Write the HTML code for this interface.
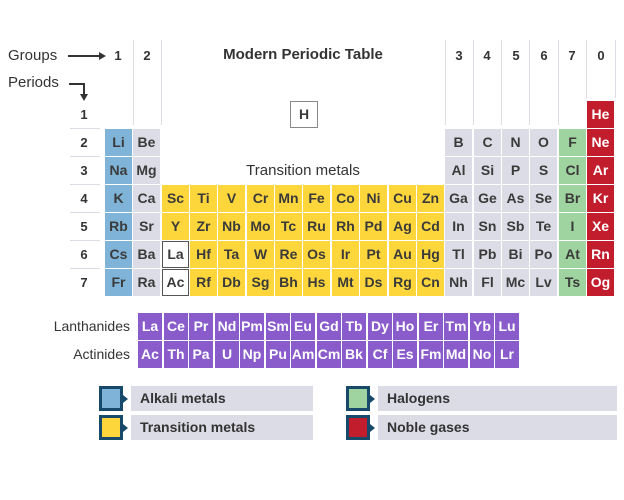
<!DOCTYPE html>
<html><head><meta charset="utf-8"><style>
*{margin:0;padding:0;box-sizing:border-box}
body{width:624px;height:500px;background:#fff;position:relative;overflow:hidden;font-family:"Liberation Sans",Arial,sans-serif;color:#333}
.a{position:absolute}
.c{position:absolute;width:27px;height:27px;line-height:27px;text-align:center;font-weight:bold;font-size:14px;color:#3a3a3a}
.b{background:#7fb4d8}.g{background:#dcdce6}.y{background:#fdd63c}.h{background:#9fd39f}.r{background:#c21d2c;color:#fff}
.w{background:#fff;border:1px solid #555;line-height:25px}
.p{position:absolute;width:24px;height:27px;line-height:27px;text-align:center;font-weight:bold;font-size:14px;color:#fff;background:#8a5ccb}
.n{position:absolute;font-weight:bold;font-size:13px;width:20px;text-align:center}
.vl{position:absolute;width:1px;background:#dcdce4}
.hl{position:absolute;height:1px;background:#dcdce4;left:70px;width:30px}
.lg{position:absolute;width:24px;height:25px;border:3px solid #174a6a}
.lg:after{content:"";position:absolute;right:-8px;top:6px;border-left:5px solid #174a6a;border-top:4px solid transparent;border-bottom:4px solid transparent}
.lb{position:absolute;height:25px;line-height:25px;background:#dcdce6;font-weight:bold;font-size:14px;padding-left:9px}
</style></head><body>
<div class="a" style="left:8px;top:47px;font-size:15px">Groups</div>
<div class="a" style="left:68px;top:55px;width:32px;height:2px;background:#333"></div>
<div class="a" style="left:99px;top:52px;border-left:7px solid #333;border-top:4px solid transparent;border-bottom:4px solid transparent"></div>
<div class="a" style="left:8px;top:74px;font-size:15px">Periods</div>
<div class="a" style="left:69px;top:83px;width:16px;height:2px;background:#333"></div>
<div class="a" style="left:83px;top:83px;width:2px;height:12px;background:#333"></div>
<div class="a" style="left:80px;top:94px;border-top:7px solid #333;border-left:4px solid transparent;border-right:4px solid transparent"></div>
<div class="a" style="left:160px;top:46px;width:286px;text-align:center;font-weight:bold;font-size:15px">Modern Periodic Table</div>
<div class="a" style="left:160px;top:162px;width:286px;text-align:center;font-size:15px">Transition metals</div>

<div class="vl" style="left:133px;top:40px;height:85px"></div>
<div class="vl" style="left:161px;top:40px;height:85px"></div>
<div class="vl" style="left:445px;top:40px;height:85px"></div>
<div class="vl" style="left:473px;top:40px;height:85px"></div>
<div class="vl" style="left:501px;top:40px;height:85px"></div>
<div class="vl" style="left:529px;top:40px;height:85px"></div>
<div class="vl" style="left:558px;top:40px;height:85px"></div>
<div class="vl" style="left:586px;top:40px;height:58px"></div>
<div class="vl" style="left:615px;top:40px;height:58px"></div>
<div class="hl" style="top:128px"></div><div class="hl" style="top:156px"></div><div class="hl" style="top:184px"></div><div class="hl" style="top:212px"></div><div class="hl" style="top:240px"></div><div class="hl" style="top:268px"></div>

<div class="n" style="left:108px;top:48px">1</div><div class="n" style="left:137px;top:48px">2</div>
<div class="n" style="left:449px;top:48px">3</div><div class="n" style="left:477px;top:48px">4</div><div class="n" style="left:506px;top:48px">5</div><div class="n" style="left:534px;top:48px">6</div><div class="n" style="left:562px;top:48px">7</div><div class="n" style="left:591px;top:48px">0</div>
<div class="n" style="left:74px;top:107px">1</div><div class="n" style="left:74px;top:135px">2</div><div class="n" style="left:74px;top:163px">3</div><div class="n" style="left:74px;top:191px">4</div><div class="n" style="left:74px;top:219px">5</div><div class="n" style="left:74px;top:247px">6</div><div class="n" style="left:74px;top:275px">7</div>

<div class="c w" style="left:290px;top:101px;width:28px;border-color:#888">H</div>
<div class="c r" style="left:587px;top:101px">He</div>

<div class="c b" style="left:105px;top:129px">Li</div><div class="c g" style="left:133px;top:129px">Be</div>
<div class="c g" style="left:445px;top:129px">B</div><div class="c g" style="left:474px;top:129px">C</div><div class="c g" style="left:502px;top:129px">N</div><div class="c g" style="left:530px;top:129px">O</div><div class="c h" style="left:559px;top:129px">F</div><div class="c r" style="left:587px;top:129px">Ne</div>

<div class="c b" style="left:105px;top:157px">Na</div><div class="c g" style="left:133px;top:157px">Mg</div>
<div class="c g" style="left:445px;top:157px">Al</div><div class="c g" style="left:474px;top:157px">Si</div><div class="c g" style="left:502px;top:157px">P</div><div class="c g" style="left:530px;top:157px">S</div><div class="c h" style="left:559px;top:157px">Cl</div><div class="c r" style="left:587px;top:157px">Ar</div>

<div class="c b" style="left:105px;top:185px">K</div><div class="c g" style="left:133px;top:185px">Ca</div><div class="c y" style="left:162px;top:185px">Sc</div><div class="c y" style="left:190px;top:185px">Ti</div><div class="c y" style="left:218px;top:185px">V</div><div class="c y" style="left:247px;top:185px">Cr</div><div class="c y" style="left:275px;top:185px">Mn</div><div class="c y" style="left:303px;top:185px">Fe</div><div class="c y" style="left:332px;top:185px">Co</div><div class="c y" style="left:360px;top:185px">Ni</div><div class="c y" style="left:389px;top:185px">Cu</div><div class="c y" style="left:417px;top:185px">Zn</div><div class="c g" style="left:445px;top:185px">Ga</div><div class="c g" style="left:474px;top:185px">Ge</div><div class="c g" style="left:502px;top:185px">As</div><div class="c g" style="left:530px;top:185px">Se</div><div class="c h" style="left:559px;top:185px">Br</div><div class="c r" style="left:587px;top:185px">Kr</div>

<div class="c b" style="left:105px;top:213px">Rb</div><div class="c g" style="left:133px;top:213px">Sr</div><div class="c y" style="left:162px;top:213px">Y</div><div class="c y" style="left:190px;top:213px">Zr</div><div class="c y" style="left:218px;top:213px">Nb</div><div class="c y" style="left:247px;top:213px">Mo</div><div class="c y" style="left:275px;top:213px">Tc</div><div class="c y" style="left:303px;top:213px">Ru</div><div class="c y" style="left:332px;top:213px">Rh</div><div class="c y" style="left:360px;top:213px">Pd</div><div class="c y" style="left:389px;top:213px">Ag</div><div class="c y" style="left:417px;top:213px">Cd</div><div class="c g" style="left:445px;top:213px">In</div><div class="c g" style="left:474px;top:213px">Sn</div><div class="c g" style="left:502px;top:213px">Sb</div><div class="c g" style="left:530px;top:213px">Te</div><div class="c h" style="left:559px;top:213px">I</div><div class="c r" style="left:587px;top:213px">Xe</div>

<div class="c b" style="left:105px;top:241px">Cs</div><div class="c g" style="left:133px;top:241px">Ba</div><div class="c w" style="left:162px;top:241px">La</div><div class="c y" style="left:190px;top:241px">Hf</div><div class="c y" style="left:218px;top:241px">Ta</div><div class="c y" style="left:247px;top:241px">W</div><div class="c y" style="left:275px;top:241px">Re</div><div class="c y" style="left:303px;top:241px">Os</div><div class="c y" style="left:332px;top:241px">Ir</div><div class="c y" style="left:360px;top:241px">Pt</div><div class="c y" style="left:389px;top:241px">Au</div><div class="c y" style="left:417px;top:241px">Hg</div><div class="c g" style="left:445px;top:241px">Tl</div><div class="c g" style="left:474px;top:241px">Pb</div><div class="c g" style="left:502px;top:241px">Bi</div><div class="c g" style="left:530px;top:241px">Po</div><div class="c h" style="left:559px;top:241px">At</div><div class="c r" style="left:587px;top:241px">Rn</div>

<div class="c b" style="left:105px;top:269px">Fr</div><div class="c g" style="left:133px;top:269px">Ra</div><div class="c w" style="left:162px;top:269px">Ac</div><div class="c y" style="left:190px;top:269px">Rf</div><div class="c y" style="left:218px;top:269px">Db</div><div class="c y" style="left:247px;top:269px">Sg</div><div class="c y" style="left:275px;top:269px">Bh</div><div class="c y" style="left:303px;top:269px">Hs</div><div class="c y" style="left:332px;top:269px">Mt</div><div class="c y" style="left:360px;top:269px">Ds</div><div class="c y" style="left:389px;top:269px">Rg</div><div class="c y" style="left:417px;top:269px">Cn</div><div class="c g" style="left:445px;top:269px">Nh</div><div class="c g" style="left:474px;top:269px">Fl</div><div class="c g" style="left:502px;top:269px">Mc</div><div class="c g" style="left:530px;top:269px">Lv</div><div class="c h" style="left:559px;top:269px">Ts</div><div class="c r" style="left:587px;top:269px">Og</div>

<div class="a" style="left:20px;top:318px;width:110px;text-align:right;font-size:14px">Lanthanides</div>
<div class="a" style="left:20px;top:346px;width:110px;text-align:right;font-size:14px">Actinides</div>
<div class="p" style="left:138px;top:313px">La</div><div class="p" style="left:164px;top:313px">Ce</div><div class="p" style="left:189px;top:313px">Pr</div><div class="p" style="left:215px;top:313px">Nd</div><div class="p" style="left:240px;top:313px">Pm</div><div class="p" style="left:266px;top:313px">Sm</div><div class="p" style="left:291px;top:313px">Eu</div><div class="p" style="left:317px;top:313px">Gd</div><div class="p" style="left:342px;top:313px">Tb</div><div class="p" style="left:368px;top:313px">Dy</div><div class="p" style="left:393px;top:313px">Ho</div><div class="p" style="left:419px;top:313px">Er</div><div class="p" style="left:444px;top:313px">Tm</div><div class="p" style="left:470px;top:313px">Yb</div><div class="p" style="left:495px;top:313px">Lu</div>
<div class="p" style="left:138px;top:341px">Ac</div><div class="p" style="left:164px;top:341px">Th</div><div class="p" style="left:189px;top:341px">Pa</div><div class="p" style="left:215px;top:341px">U</div><div class="p" style="left:240px;top:341px">Np</div><div class="p" style="left:266px;top:341px">Pu</div><div class="p" style="left:291px;top:341px">Am</div><div class="p" style="left:317px;top:341px">Cm</div><div class="p" style="left:342px;top:341px">Bk</div><div class="p" style="left:368px;top:341px">Cf</div><div class="p" style="left:393px;top:341px">Es</div><div class="p" style="left:419px;top:341px">Fm</div><div class="p" style="left:444px;top:341px">Md</div><div class="p" style="left:470px;top:341px">No</div><div class="p" style="left:495px;top:341px">Lr</div>

<div class="lg" style="left:99px;top:386px;background:#7fb4d8"></div><div class="lb" style="left:131px;top:386px;width:182px">Alkali metals</div>
<div class="lg" style="left:99px;top:415px;background:#fdd63c"></div><div class="lb" style="left:131px;top:415px;width:182px">Transition metals</div>
<div class="lg" style="left:346px;top:386px;background:#9fd39f"></div><div class="lb" style="left:378px;top:386px;width:239px">Halogens</div>
<div class="lg" style="left:346px;top:415px;background:#c21d2c"></div><div class="lb" style="left:378px;top:415px;width:239px">Noble gases</div>
</body></html>
